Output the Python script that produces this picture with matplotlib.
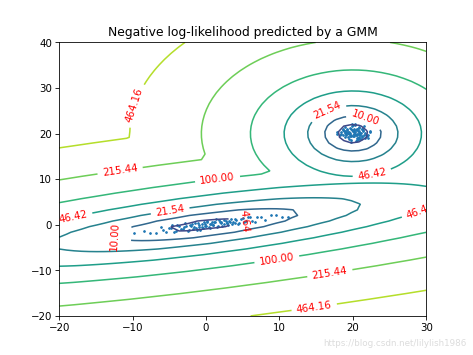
import numpy as np
import matplotlib
matplotlib.use("Agg")
import matplotlib.pyplot as plt
from matplotlib.colors import LogNorm

weights = [0.5, 0.5]
means = [[20.0, 20.0], [0.0, 0.0]]
covs = [[[1.0, 0.0], [0.0, 1.0]], [[12.25, 2.45], [2.45, 0.98]]]
levels = [1.0, 2.154, 4.642, 10.0, 21.544, 46.416, 100.0, 215.443, 464.159, 1000.0]

# training samples (approximate)
ax1 = [20.3, 19.1, 21.2, 20.8, 18.9, 19.6, 20.1, 21.7, 18.4, 20.5, 19.9, 22.1, 20.9, 19.3, 20.6, 18.8, 21.4, 20.0, 19.5, 21.0,
       20.2, 17.9, 19.8, 20.7, 21.9, 19.0, 20.4, 18.6, 21.3, 20.1, 19.4, 22.4, 20.8, 19.7, 20.3, 18.2, 21.6, 19.2, 20.0, 20.9,
       21.1, 19.6, 18.7, 20.5, 22.0, 19.9, 20.6, 19.1, 21.5, 20.2,
       19.7, 20.4, 21.0, 19.2, 20.8, 19.5, 20.1, 21.4, 18.9, 20.6, 19.8, 20.3, 21.2, 19.0, 20.0, 20.9, 19.4, 20.5, 21.8, 18.6,
       19.9, 20.7, 19.3, 20.2, 21.1, 19.6, 20.4, 18.4, 21.5, 20.0, 19.1, 20.6, 22.3, 19.7, 20.9, 17.8, 20.3, 19.5, 21.3, 20.8]
ay1 = [20.4, 19.8, 20.9, 19.3, 20.6, 21.2, 19.5, 20.1, 19.9, 18.7, 20.8, 19.6, 21.5, 20.2, 19.0, 20.5, 20.7, 21.8, 18.9, 19.7,
       20.3, 20.0, 21.1, 20.6, 19.4, 19.2, 18.3, 20.9, 21.0, 19.9, 20.1, 20.4, 18.8, 19.6, 22.0, 19.7, 19.1, 20.8, 20.5, 21.3,
       20.2, 19.4, 20.7, 19.9, 19.0, 21.6, 18.5, 20.3, 19.8, 20.0,
       19.5, 20.7, 20.2, 20.9, 19.1, 19.9, 21.0, 20.6, 20.1, 19.7, 18.6, 20.0, 19.4, 21.4, 20.6, 20.1, 19.3, 21.1, 19.8, 19.6,
       22.2, 19.0, 20.4, 20.8, 18.9, 20.2, 19.6, 20.3, 21.7, 19.4, 20.0, 20.9, 20.5, 18.1, 19.9, 20.4, 21.9, 20.3, 19.2, 20.6]
bx = [-9.8, -7.6, -6.2, -5.5, -4.8, -4.1, -3.7, -3.2, -2.9, -2.5, -2.1, -1.8, -1.5, -1.2, -0.9, -0.6, -0.3, 0.0, 0.2, 0.5,
      0.8, 1.0, 1.3, 1.6, 1.9, 2.2, 2.5, 2.8, 3.1, 3.5, 3.9, 4.3, 4.8, 5.2, 5.7, 6.3, 7.0, 8.1, 9.6, 11.2,
      -3.0, -1.0, 0.6, 2.0, 3.3, -2.2, 1.1, -0.4, 4.0, -5.0,
      -8.5, -6.8, -5.9, -4.4, -3.9, -3.4, -2.7, -2.3, -1.9, -1.6, -1.3, -1.1, -0.8, -0.5, -0.2, 0.1, 0.4, 0.7, 0.9, 1.2,
      1.5, 1.8, 2.1, 2.4, 2.7, 3.0, 3.4, 3.7, 4.1, 4.5, 5.0, 5.5, 6.0, 6.7, 7.5, 8.8, 10.3, -4.6, -0.1, 2.9]
by = [-1.7, -1.9, -0.6, -1.6, -0.8, -1.4, -0.2, -0.9, 0.3, -1.3, -0.3, -0.9, 0.3, -1.2, 0.0, -0.5, 0.7, -0.2, 0.5, -0.8,
      0.5, -0.1, 1.3, -0.3, 0.5, -0.3, 1.1, 0.4, 0.9, 0.2, 1.2, 0.1, 1.2, 0.7, 1.6, 0.9, 1.7, 1.0, 2.1, 1.7,
      -0.4, -0.4, 0.2, 0.6, 0.6, 0.0, 0.7, -0.7, 0.4, -0.7,
      -1.3, -1.7, -1.1, -1.5, -0.1, -0.9, -0.3, -1.2, 0.1, -0.4, -0.7, 0.4, -1.1, 0.2, -0.2, 0.8, -0.4, 0.2, -0.1, 0.6,
      -0.5, 1.0, 0.4, 0.1, 0.8, 0.0, 1.2, 0.6, 1.0, 0.4, 1.4, 0.9, 1.8, 0.6, 1.6, 2.1, 1.7, 0.0, 0.1, 0.4]

x = np.linspace(-20.0, 30.0)
y = np.linspace(-20.0, 40.0)
X, Y = np.meshgrid(x, y)
P = np.stack([X.ravel(), Y.ravel()], axis=1)
dens = np.zeros(len(P))
for w, m, c in zip(weights, means, covs):
    m = np.array(m); c = np.array(c)
    inv = np.linalg.inv(c)
    d = P - m
    q = np.einsum('ij,jk,ik->i', d, inv, d)
    dens += w * np.exp(-0.5 * q) / (2 * np.pi * np.sqrt(np.linalg.det(c)))
Z = (-np.log(dens)).reshape(X.shape)

fig = plt.figure(figsize=(6.4, 4.8), dpi=74)
CS = plt.contour(X, Y, Z, norm=LogNorm(vmin=1.0, vmax=1000.0), levels=levels)
label_pos = [(-10.3, 26.5), (-11.7, 11.8), (1.6, 9.6), (-18.1, 1.7), (-4.9, 3.2), (-12.3, -2.6),
             (5.3, 1.0), (16.6, 24.8), (21.7, 23.4), (22.6, 11.3), (29.0, 4.0),
             (9.6, -7.1), (16.8, -9.9), (14.6, -16.5)]
plt.clabel(CS, inline=True, fontsize=10, colors='r', fmt='%.2f', manual=label_pos)
plt.scatter(ax1 + bx, ay1 + by, 2.5)
plt.title("Negative log-likelihood predicted by a GMM")
plt.axis("tight")
fig.text(0.985, 0.02, "https://blog.csdn.net/lilylish1986", ha='right', va='bottom',
         fontsize=8.5, color='#dcdcdc')
fig.savefig("out.png", dpi=74)
